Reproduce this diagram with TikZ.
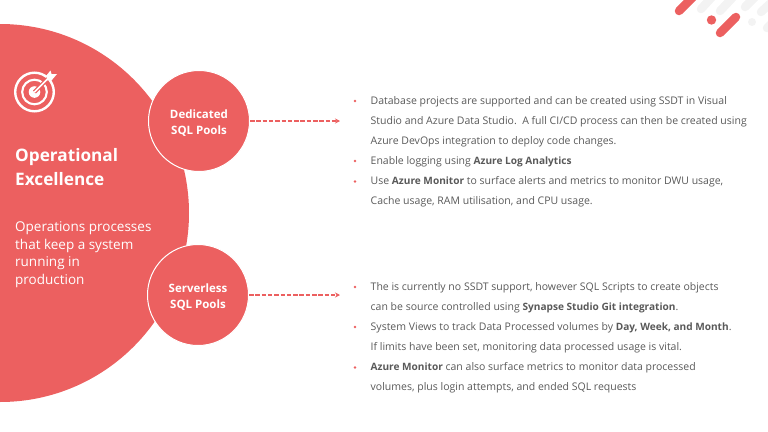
\documentclass[tikz,border=0pt]{standalone}
\usepackage{fontspec}
\setmainfont{Open Sans}
\usetikzlibrary{arrows.meta}
\definecolor{salmon}{HTML}{EC6060}
\definecolor{bodygrey}{HTML}{595959}
\definecolor{paleband}{HTML}{F3F3F3}
\newcommand{\keyword}[1]{{\fontsize{10.1}{12}\selectfont\bfseries #1}}
\newcommand{\poolstrut}{\rule{0pt}{12pt}}
\tikzset{
    pool/.style = {circle, fill = salmon, draw = white, line width = 1pt, minimum size = 101pt, inner sep = 0pt,
        text = white, align = center, font = \fontsize{11.5}{16}\selectfont\bfseries},
    link/.style = {draw = salmon, line width = 1.1pt, dash pattern = on 4.5pt off 1.8pt, -{Stealth[length = 5pt, width = 5pt]}},
    bullet/.style = {circle, fill = salmon, inner sep = 0pt, minimum size = 2.6pt},
    item/.style = {anchor = west, inner sep = 0pt, text = bodygrey, font = \fontsize{10.5}{12}\selectfont},
    band/.style = {line width = 8.5pt, line cap = round},
}
\begin{document}
\begin{tikzpicture}[x = 1pt, y = -1pt]
    \useasboundingbox (0, 0) rectangle (768, 431);

    % top right corner
    \draw [band, paleband]
    (712, -3) -- (701, 9)
    (735, -5) -- (720, 11)
    (757, -5) -- (745, 7)
    (773, 1) -- (761, 12)
    (773, 22) -- (767, 28);
    \fill [paleband] (752, 22) circle (4pt);
    \draw [band, salmon]
    (695, -5) -- (679, 11)
    (736, 17) -- (720, 33);
    \fill [salmon] (711.5, 20) circle (4.7pt);

    % main disc
    \fill [salmon] (0, 24) arc [start angle = -90, end angle = 90, radius = 189];

    % target icon
    \draw [white, line width = 2.4pt] (34.5, 92) circle (19.3pt);
    \draw [white, line width = 2.1pt] (34.5, 92) circle (12.3pt);
    \fill [white] (34.5, 92) circle (5.8pt);
    \draw [salmon, line width = 4pt] (34.5, 92) -- (50, 76.5);
    \draw [white, line width = 1.5pt] (34.5, 92) -- (50, 76.5);
    \fill [white] (46, 76) -- (50.5, 70.5) -- (51.5, 74) -- (57, 74) -- (51.5, 80.5) -- (47.5, 80.5) -- cycle;

    \node [anchor = west, inner sep = 0pt, text = white, align = left, font = \fontsize{17.2}{23.5}\selectfont\bfseries]
    (title) at (15, 167) {Operational\\Excellence};
    \node [anchor = west, inner sep = 0pt, text = white, align = left, font = \fontsize{13.5}{17.6}\selectfont]
    (subtitle) at (15, 254.5) {Operations processes\\that keep a system\\running in\\production};

    \node [pool] (dedicated) at (199, 121) {\poolstrut Dedicated\\SQL Pools};
    \node [pool] (serverless) at (198, 295) {\poolstrut Serverless\\SQL Pools};

    \coordinate (dedicatedEnd) at (340, 121);
    \coordinate (serverlessEnd) at (340, 295);
    \draw [link] (dedicated) -- (dedicatedEnd);
    \draw [link] (serverless) -- (serverlessEnd);

    % first list
    \node [bullet] (bulletA) at (355, 101) {};
    \node [item] (lineA) at (370.5, 101.5) {Database projects are supported and can be created using SSDT in Visual};
    \node [item] (lineB) at (370.5, 121.5) {Studio and Azure Data Studio.\ \ A full CI/CD process can then be created using};
    \node [item] (lineC) at (370.5, 141.5) {Azure DevOps integration to deploy code changes.};
    \node [bullet] (bulletB) at (355, 161) {};
    \node [item] (lineD) at (370.5, 161.5) {Enable logging using \keyword{Azure Log Analytics}};
    \node [bullet] (bulletC) at (355, 181.5) {};
    \node [item] (lineE) at (370.5, 182) {Use \keyword{Azure Monitor} to surface alerts and metrics to monitor DWU usage,};
    \node [item] (lineF) at (370.5, 202) {Cache usage, RAM utilisation, and CPU usage.};

    % second list
    \node [bullet] (bulletD) at (355, 287) {};
    \node [item] (lineG) at (370.5, 287.5) {The is currently no SSDT support, however SQL Scripts to create objects};
    \node [item] (lineH) at (370.5, 307.5) {can be source controlled using \keyword{Synapse Studio Git integration}.};
    \node [bullet] (bulletE) at (355, 327) {};
    \node [item] (lineI) at (370.5, 327.5) {System Views to track Data Processed volumes by \keyword{Day, Week, and Month}.};
    \node [item] (lineJ) at (370.5, 347.5) {If limits have been set, monitoring data processed usage is vital.};
    \node [bullet] (bulletF) at (355, 367.5) {};
    \node [item] (lineK) at (370.5, 368) {\keyword{Azure Monitor} can also surface metrics to monitor data processed};
    \node [item] (lineL) at (370.5, 388) {volumes, plus login attempts, and ended SQL requests};
\end{tikzpicture}
\end{document}
